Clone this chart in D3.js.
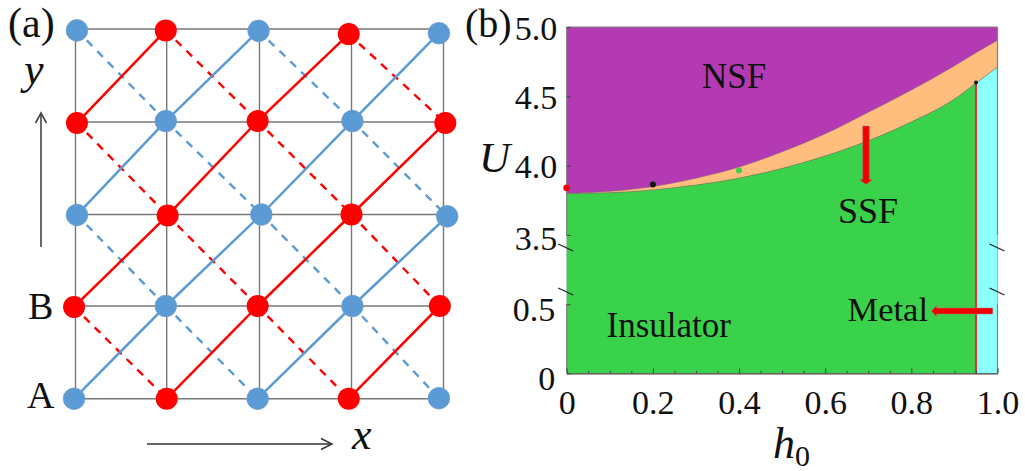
<!DOCTYPE html>
<html><head><meta charset="utf-8">
<script src="https://cdnjs.cloudflare.com/ajax/libs/d3/7.8.5/d3.min.js"></script>
<style>
html,body{margin:0;padding:0;background:#fff}
svg{display:block}
text{font-family:"Liberation Serif",serif;fill:#111}
</style></head><body>
<svg id="c" width="1025" height="471"></svg>
<script>
// ---- panel (a) lattice data ----
const colLines = [75.5,166.7,259.5,351.5,443.5];
const rowLines = [29,122,214.5,306,398.7];
const latticeIdx = [0,1,2,3,4];
// sublattice per row/col: A blue, B red
const sublattice = [
 ["A","B","A","B","A"],
 ["B","A","B","A","B"],
 ["A","B","A","B","A"],
 ["B","A","B","A","B"],
 ["A","B","A","B","A"]];
// node positions, fractional lattice units
const nodeCols = [
 [0.016,0.99,1.99,2.97,3.95],
 [0.016,0.99,1.98,3.01,4.02],
 [0.016,1.01,2.02,3.0,4.04],
 [-0.016,0.99,1.98,3.01,3.96],
 [-0.016,1.0,1.98,2.97,3.95]];
const nodeRows = [
 [0.015,0.015,0.02,0.055,0.045],
 [1.01,0.99,0.99,0.99,1.01],
 [2.005,2.01,2.0,2.0,2.02],
 [3.01,3.0,3.0,3.0,3.0],
 [4.0,4.0,4.0,4.0,3.995]];
// ---- panel (b) phase diagram data ----
const h0Values = [0,0.1,0.2,0.3,0.4,0.5,0.6,0.7,0.8,0.9,0.95,1];
const uLower =   [3.8,3.805,3.825,3.86,3.91,3.98,4.07,4.18,4.315,4.48,4.595,4.71];
const uUpper =   [3.8,3.815,3.85,3.91,3.99,4.10,4.23,4.385,4.545,4.72,4.815,4.905];
const metalH = 0.95;
const xMajor = [0,0.2,0.4,0.6,0.8,1.0];
const xMinor = [0.05,0.1,0.15,0.25,0.3,0.35,0.45,0.5,0.55,0.65,0.7,0.75,0.85,0.9,0.95];
const yTicks = [0,0.5,3.5,4.0,4.5,5.0];
const dotH = [0,0.2,0.4,0.95];
const dotU = [3.84,3.865,3.965,4.6];
const dotColor = ["#ff0000","#111111","#3ad24a","#111111"];
const dotR = [3.4,3,3,2];

const svg = d3.select("#c");
const BLUE="#5b9bd5", RED="#ff0000";
const colour = s => s==="A"?BLUE:RED;

// ---------- panel (a) ----------
const px = d3.scaleLinear().domain(latticeIdx).range(colLines);
const py = d3.scaleLinear().domain(latticeIdx).range(rowLines);
const a = svg.append("g");
const grid = a.append("g").attr("stroke","#777").attr("stroke-width",1.4);
latticeIdx.forEach(i=>{
  grid.append("line").attr("x1",px(i)).attr("x2",px(i)).attr("y1",py(0)).attr("y2",py(4));
  grid.append("line").attr("y1",py(i)).attr("y2",py(i)).attr("x1",px(0)).attr("x2",px(4));
});
const X=(r,c)=>px(nodeCols[r][c]), Y=(r,c)=>py(nodeRows[r][c]);
// bonds
const dashed=a.append("g"), solid=a.append("g");
latticeIdx.forEach(r=>latticeIdx.forEach(c=>{
  const col=colour(sublattice[r][c]);
  if(r<4&&c<4) dashed.append("line").attr("x1",X(r,c)).attr("y1",Y(r,c)).attr("x2",X(r+1,c+1)).attr("y2",Y(r+1,c+1))
     .attr("stroke",col).attr("stroke-width",2.4).attr("stroke-dasharray","8 7").attr("stroke-dashoffset",-14);
  if(r>0&&c<4) solid.append("line").attr("x1",X(r,c)).attr("y1",Y(r,c)).attr("x2",X(r-1,c+1)).attr("y2",Y(r-1,c+1))
     .attr("stroke",col).attr("stroke-width",2.5);
}));
latticeIdx.forEach(r=>latticeIdx.forEach(c=>{
  const s=sublattice[r][c];
  a.append("circle").attr("cx",X(r,c)).attr("cy",Y(r,c)).attr("r",s==="A"?10.8:11)
   .attr("fill",colour(s)).attr("stroke",s==="A"?"#6f9fc8":"none").attr("stroke-width",.8);
}));
// direction arrows
function thinArrow(g,x1,y1,x2,y2,col,w,hl,hw){
  const ang=Math.atan2(y2-y1,x2-x1), c=Math.cos(ang), s=Math.sin(ang);
  g.append("line").attr("x1",x1).attr("y1",y1).attr("x2",x2-c*2).attr("y2",y2-s*2).attr("stroke",col).attr("stroke-width",w);
  g.append("path").attr("fill","none").attr("stroke",col).attr("stroke-width",w)
   .attr("d",d3.line()([[x2-c*hl-s*hw,y2-s*hl+c*hw],[x2,y2],[x2-c*hl+s*hw,y2-s*hl-c*hw]]));
}
thinArrow(a,41,247,41,113,"#444",1.6,10,5.5);
thinArrow(a,147,444,332,444,"#333",1.4,11,5.5);
function label(txt,x,y,size,opt={}){
  return svg.append("text").attr("x",x).attr("y",y).attr("font-size",size)
    .attr("text-anchor",opt.anchor||"start").attr("font-style",opt.italic?"italic":"normal").text(txt);
}
label("(a)",8,37,42);
label("y",24,84,44,{italic:true});
label("x",352,449,44,{italic:true});
label("A",27,408,38);
label("B",28,319,38);

// ---------- panel (b) ----------
const x = d3.scaleLinear().domain([0,1]).range([566.7,997.5]);
const y = d3.scaleLinear().domain([0,0.5,3.5,5]).range([373.3,304.3,235,27]);
const rows = h0Values.map((h,i)=>({h,lo:uLower[i],up:uUpper[i]}));
const curve = d3.curveMonotoneX;
const b = svg.append("g");
b.append("rect").attr("x",x(0)).attr("y",y(5)).attr("width",x(1)-x(0)).attr("height",y(0)-y(5)).attr("fill","#b43ab4");
b.append("path").attr("fill","#ffbe7d")
  .attr("d",d3.area().x(d=>x(d.h)).y0(d=>y(d.lo)).y1(d=>y(d.up)).curve(curve)(rows));
const lowerPath=d3.area().x(d=>x(d.h)).y0(y(0)).y1(d=>y(d.lo)).curve(curve)(rows);
b.append("path").attr("fill","#3ad24a").attr("d",lowerPath);
b.append("clipPath").attr("id","metal").append("rect").attr("x",x(metalH)).attr("y",y(5)).attr("width",x(1)-x(metalH)).attr("height",y(0)-y(5));
b.append("path").attr("fill","#8cffff").attr("clip-path","url(#metal)").attr("d",lowerPath);
b.append("path").attr("fill","none").attr("stroke","#6d7a55").attr("stroke-width",.6)
  .attr("d",d3.line().x(d=>x(d.h)).y(d=>y(d.lo)).curve(curve)(rows));
b.append("path").attr("fill","none").attr("stroke","#8a5a8a").attr("stroke-width",.6)
  .attr("d",d3.line().x(d=>x(d.h)).y(d=>y(d.up)).curve(curve)(rows));
// metal boundary
b.append("line").attr("x1",x(metalH)).attr("x2",x(metalH)).attr("y1",y(4.6)).attr("y2",y(0)).attr("stroke","#ee2a2a").attr("stroke-width",2);
// frame: top and right grey, left broken
const frame=b.append("g").attr("stroke","#808080").attr("stroke-width",1.2);
frame.append("line").attr("x1",x(0)).attr("x2",x(1)).attr("y1",y(5)).attr("y2",y(5));
[[5,3.5],[0.5,0]].forEach(([u1,u2])=>{
  frame.append("line").attr("x1",x(0)).attr("x2",x(0)).attr("y1",y(u1)).attr("y2",y(u2));
  frame.append("line").attr("x1",x(1)).attr("x2",x(1)).attr("y1",y(u1)).attr("y2",y(u2));
});
// axes
const fmt = d => d===0?"0":d3.format(".1f")(d);
const xAxisMajor=d3.axisBottom(x).tickValues(xMajor).tickFormat(fmt).tickSizeOuter(0).tickSizeInner(-5).tickPadding(17);
const xAxisMinor=d3.axisBottom(x).tickValues(xMinor).tickFormat("").tickSizeOuter(0).tickSizeInner(-2.5);
const yAxis=d3.axisLeft(y).tickValues(yTicks).tickFormat(fmt).tickSizeOuter(0).tickSizeInner(-4).tickPadding(9.5);
const gy=svg.append("g").attr("transform",`translate(${x(0)},0)`).call(yAxis);
gy.select(".domain").remove();
const gx=svg.append("g").attr("transform",`translate(0,${y(0)})`).call(xAxisMajor);
svg.append("g").attr("transform",`translate(0,${y(0)})`).call(xAxisMinor).select(".domain").remove();
svg.selectAll("g.tick line").attr("stroke","#444").attr("stroke-width",1);
gx.select(".domain").attr("stroke","#444").attr("stroke-width",1.2);
[gx,gy].forEach(g=>g.selectAll("text").attr("font-size",34).attr("font-family","Liberation Serif").attr("fill","#222"));
gy.selectAll("text").attr("dy",d=>d<1?"0.47em":d===3.5?"0.42em":"0.36em").attr("dx",d=>d<1?-2:0);
// break marks
const breakPx=[247.5,291.5];
breakPx.forEach(p=>{
  [0,1].forEach(side=>{
    const cx=x(side)+(side?-0.5:-1);
    svg.append("line").attr("x1",cx-7.5).attr("x2",cx+7.5).attr("y1",p-3.5).attr("y2",p+3.5).attr("stroke","#222").attr("stroke-width",1.3);
  });
});
// dots
dotH.forEach((h,i)=>{
  svg.append("circle").attr("cx",x(h)).attr("cy",y(dotU[i])).attr("r",dotR[i]).attr("fill",dotColor[i]);
});
// red arrows
function fatArrow(x1,y1,x2,y2,w,hl,hw){
  const ang=Math.atan2(y2-y1,x2-x1), c=Math.cos(ang), s=Math.sin(ang);
  const bx=x2-c*hl, by=y2-s*hl;
  svg.append("path").attr("fill","#f00000").attr("stroke","#b07070").attr("stroke-width",.5)
   .attr("d",d3.line()([[x1-s*w/2,y1+c*w/2],[bx-s*w/2,by+c*w/2],[bx-s*hw,by+c*hw],[x2,y2],[bx+s*hw,by-c*hw],[bx+s*w/2,by-c*w/2],[x1+s*w/2,y1-c*w/2]])+"Z");
}
fatArrow(866,126,866,184.5,6.5,5,6.5);
fatArrow(992.7,311,931.5,311,6,5,5.5);
label("(b)",465,37,40);
label("NSF",702,88,35);
label("SSF",838,222.7,36);
label("Insulator",606.5,337,35);
label("Metal",847.5,321,34.5);
label("U",479,171.7,43,{italic:true});
label("h",773,457.7,44,{italic:true});
svg.append("text").attr("x",795).attr("y",466).attr("font-size",30).text("0");
</script>
</body></html>
